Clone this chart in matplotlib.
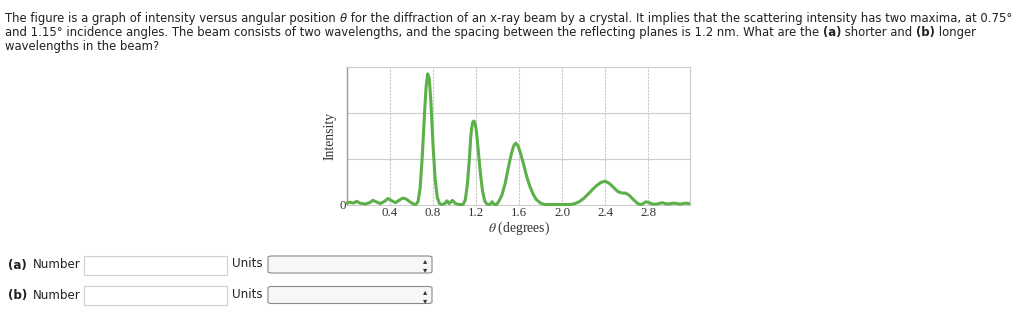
import matplotlib
matplotlib.use("Agg")
import matplotlib.pyplot as plt
from matplotlib.patches import FancyBboxPatch, Rectangle

# ---- data ----
theta = [0.00, 0.02, 0.04, 0.06, 0.09, 0.12, 0.17, 0.21, 0.24, 0.27, 0.31, 0.35, 0.38, 0.41,
         0.45, 0.49, 0.52, 0.55, 0.59, 0.62,
         0.64, 0.66, 0.68, 0.70, 0.72, 0.735, 0.75, 0.765, 0.78, 0.80, 0.82, 0.84, 0.86,
         0.88, 0.91, 0.93, 0.95, 0.98, 1.01, 1.04,
         1.08, 1.10, 1.12, 1.14, 1.15, 1.16, 1.17, 1.18, 1.19, 1.20, 1.21, 1.22, 1.23,
         1.24, 1.26, 1.28, 1.30, 1.33, 1.35, 1.37,
         1.39, 1.41, 1.44, 1.47, 1.50, 1.53, 1.55, 1.57, 1.59, 1.61, 1.64, 1.67, 1.70,
         1.73, 1.76, 1.80, 1.84, 2.08,
         2.12, 2.16, 2.20, 2.24, 2.28, 2.32, 2.36, 2.40, 2.44, 2.48, 2.52, 2.56, 2.59,
         2.62, 2.65, 2.68, 2.71, 2.74, 2.78, 2.81, 2.84, 2.88, 2.93, 2.98, 3.04, 3.10,
         3.15, 3.18]
intensity = [0.03, 0.05, 0.04, 0.03, 0.07, 0.03, 0.01, 0.04, 0.09, 0.06, 0.02, 0.07, 0.13, 0.09,
             0.04, 0.10, 0.14, 0.12, 0.05, 0.01,
             0.00, 0.06, 0.35, 1.05, 1.95, 2.55, 2.85, 2.75, 2.25, 1.30, 0.55, 0.15, 0.02,
             0.00, 0.02, 0.08, 0.02, 0.09, 0.02, 0.00,
             0.00, 0.10, 0.45, 1.05, 1.45, 1.68, 1.80, 1.82, 1.78, 1.66, 1.45, 1.20, 0.95,
             0.70, 0.30, 0.08, 0.01, 0.00, 0.06, 0.00,
             0.00, 0.06, 0.20, 0.45, 0.80, 1.12, 1.28, 1.34, 1.28, 1.15, 0.90, 0.62, 0.40,
             0.23, 0.11, 0.03, 0.00, 0.00,
             0.02, 0.06, 0.13, 0.22, 0.32, 0.41, 0.48, 0.51, 0.46, 0.37, 0.28, 0.25, 0.25,
             0.21, 0.14, 0.07, 0.01, 0.00, 0.06, 0.04, 0.01, 0.01, 0.04, 0.01, 0.03, 0.01,
             0.03, 0.02]

xticks = [0.4, 0.8, 1.2, 1.6, 2.0, 2.4, 2.8]
xtick_labels = ["0.4", "0.8", "1.2", "1.6", "2.0", "2.4", "2.8"]

# question text: each line is a list of (text, style) pieces
question_lines = [
    [("The figure is a graph of intensity versus angular position ", "normal"),
     ("θ", "italic"),
     (" for the diffraction of an x-ray beam by a crystal. It implies that the scattering intensity has two maxima, at 0.75°", "normal")],
    [("and 1.15° incidence angles. The beam consists of two wavelengths, and the spacing between the reflecting planes is 1.2 nm. What are the ", "normal"),
     ("(a)", "bold"),
     (" shorter and ", "normal"),
     ("(b)", "bold"),
     (" longer", "normal")],
    [("wavelengths in the beam?", "normal")],
]
row_labels = ["(a)", "(b)"]

W, H = 1024, 328
fig = plt.figure(figsize=(W / 100, H / 100), dpi=100)
fig.patch.set_facecolor("white")
renderer = fig.canvas.get_renderer()

def fx(px):
    return px / W

def fy(py):
    return 1 - py / H

# question text
FS = 8.35
for i, pieces in enumerate(question_lines):
    xpx = 5.0
    ypx = 18.3 + i * 14.3
    for txt, style in pieces:
        kw = dict(fontsize=FS, family="DejaVu Sans", va="baseline", ha="left", color="#222222")
        if style == "bold":
            kw["weight"] = "bold"
        elif style == "italic":
            kw["style"] = "italic"
        t = fig.text(fx(xpx), fy(ypx + 3.5), txt, **kw)
        bb = t.get_window_extent(renderer=renderer)
        xpx += bb.width

# chart
ax = fig.add_axes([fx(347), fy(204.5), fx(690 - 347), (204.5 - 67) / H])
ax.plot(theta, intensity, color="#5cb04a", lw=2.2, solid_joinstyle="round",
        solid_capstyle="round", clip_on=False, zorder=3)
ax.set_xlim(0, 3.19)
ax.set_ylim(0, 3.0)
ax.set_xticks(xticks)
ax.set_xticklabels(xtick_labels, family="Liberation Serif", fontsize=9.3, color="#333333")
ax.set_yticks([0])
ax.set_yticklabels(["0"], family="Liberation Serif", fontsize=9.3, color="#333333")
ax.tick_params(length=0, pad=2)
ax.tick_params(axis="y", pad=1)
for x in xticks:
    ax.axvline(x, color="#c8c8c8", lw=0.8, ls=(0, (2, 1)), zorder=1)
for y in [1, 2]:
    ax.axhline(y, color="#cccccc", lw=0.8, zorder=1)
for s in ["top", "right", "bottom"]:
    ax.spines[s].set_color("#cccccc")
    ax.spines[s].set_linewidth(0.8)
ax.spines["left"].set_color("#999999")
ax.spines["left"].set_linewidth(1.0)
ax.set_ylabel("Intensity", family="Liberation Serif", fontsize=9.8, color="#333333", labelpad=2)
ax.set_xlabel(r"$\theta$ (degrees)", family="Liberation Serif", fontsize=9.8, color="#333333", labelpad=0)
ax.xaxis.label.set_math_fontfamily("stix")

# form rows
for i, lab in enumerate(row_labels):
    cy = 265 + i * 30.5
    fig.text(fx(8), fy(cy), lab, fontsize=8.6, family="DejaVu Sans", weight="bold",
             va="center", ha="left", color="#222222")
    fig.text(fx(33), fy(cy), "Number", fontsize=8.6, family="DejaVu Sans",
             va="center", ha="left", color="#222222")
    fig.text(fx(232), fy(cy - 1.5), "Units", fontsize=8.6, family="DejaVu Sans",
             va="center", ha="left", color="#222222")
    fig.patches.append(Rectangle((fx(83.5), fy(cy + 9.5)), fx(227 - 83.5), 19 / H,
                                 transform=fig.transFigure, facecolor="white",
                                 edgecolor="#d0d0d0", lw=0.8))
    fig.patches.append(FancyBboxPatch((fx(268), fy(cy + 8)), fx(432 - 268), 17 / H,
                                      boxstyle="round,pad=0,rounding_size=0.004",
                                      transform=fig.transFigure, facecolor="#f7f7f7",
                                      edgecolor="#8a8a8a", lw=0.8))
    fig.text(fx(425.5), fy(cy + 0.5), "▴", fontsize=6, family="DejaVu Sans",
             va="bottom", ha="center", color="#333333")
    fig.text(fx(425.5), fy(cy + 0.5), "▾", fontsize=6, family="DejaVu Sans",
             va="top", ha="center", color="#333333")

fig.savefig("out.png", dpi=100)
